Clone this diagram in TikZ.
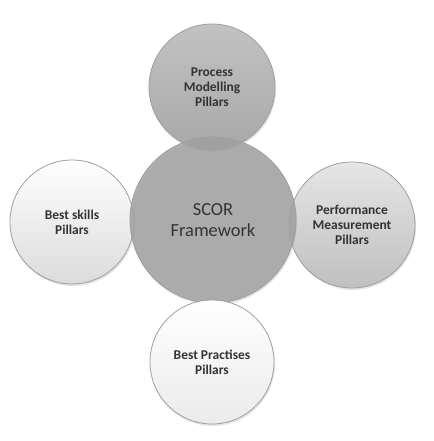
\documentclass[tikz,border=0pt]{standalone}
\usepackage{fontspec}
\setmainfont{Carlito}
\usepackage{xcolor}
\usepackage{tikz}
\usetikzlibrary{shadows}
\definecolor{txtgray}{rgb}{0.2, 0.2, 0.2}
\definecolor{rimgray}{rgb}{0.62, 0.62, 0.62}

\begin{document}
\begin{tikzpicture}[x=1bp, y=-1bp,
    pillar/.style={circle, inner sep=0pt, draw=rimgray, line width=0.8pt,
      align=center, text=txtgray, font=\fontsize{13.5}{15}\selectfont\bfseries,
      drop shadow={opacity=0.2, shadow xshift=1pt, shadow yshift=-2pt}},
    core/.style={pillar, font=\fontsize{18.5}{21}\selectfont}]
    % Fond blanc
    \useasboundingbox[fill=white] (0, 0) rectangle (434, 441);

    % Piliers derriere le cadre
    \node[pillar, minimum size=124bp, top color=white, bottom color=black!14]
      (skills) at (72, 222) {Best skills\\Pillars};
    \node[pillar, minimum size=126bp, top color=black!10, bottom color=black!25]
      (perf) at (352, 225) {Performance\\Measurement\\Pillars};
    \node[pillar, minimum size=126bp, top color=black!24, bottom color=black!34]
      (process) at (212, 87) {Process\\Modelling\\Pillars};

    % Cadre SCOR
    \node[core, minimum size=166bp, fill=black!37, fill opacity=0.85, text opacity=1]
      (scor) at (213, 220) {SCOR\\Framework};

    % Pilier du bas, devant
    \node[pillar, minimum size=124bp, top color=white, bottom color=black!8]
      (practises) at (212, 362) {Best Practises\\Pillars};
\end{tikzpicture}
\end{document}
